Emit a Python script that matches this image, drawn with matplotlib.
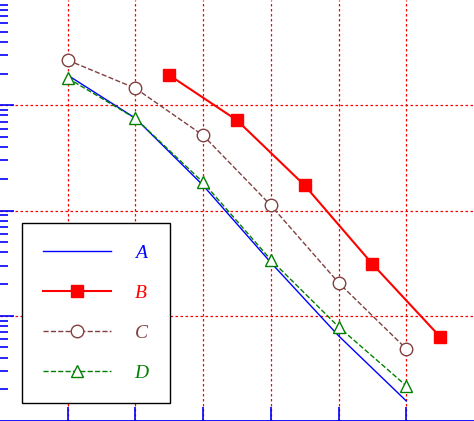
import numpy as np
import matplotlib.pyplot as plt

x_ad = [1, 2, 3, 4, 5, 6]
x_b = [2.5, 3.5, 4.5, 5.5, 6.5]
a_vals = [0.193, 0.0752, 0.0173, 0.0032, 6.45e-4, 1.55e-4]
b_vals = [0.193, 0.072, 0.0173, 0.0031, 6.3e-4]
c_vals = [0.268, 0.145, 0.0517, 0.0112, 0.00206, 4.85e-4]
d_vals = [0.181, 0.075, 0.0185, 0.0034, 7.85e-4, 2.16e-4]

fig = plt.figure(figsize=(4.74, 4.21), dpi=100)
ax = fig.add_axes([0, 0, 1, 1])
ax.set_yscale('log')
ax.set_xlim(0, 7)
ax.set_ylim(1e-4, 1)

ax.plot(x_ad, a_vals, color='blue', lw=1, label='A')
ax.plot(x_b, b_vals, color='red', lw=1.5, marker='s', ms=8, label='B')
ax.plot(x_ad, c_vals, color='#804040', lw=1, ls='--', marker='o', ms=9,
        mfc='white', mec='#804040', label='C')
ax.plot(x_ad, d_vals, color='green', lw=1, ls='--', marker='^', ms=9,
        mfc='white', mec='green', label='D')

ax.set_xticks([1, 2, 3, 4, 5, 6])
ax.set_yticks([1e-3, 1e-2, 1e-1])
ax.grid(True, which='major', color='red', ls=(0, (2, 2)), lw=0.9)
ax.tick_params(axis='both', which='both', direction='in', colors='blue',
               labelbottom=False, labelleft=False)
ax.tick_params(which='major', length=10, width=1.2)
ax.tick_params(which='minor', length=6, width=1.2)
for s in ['top', 'right', 'left']:
    ax.spines[s].set_visible(False)
ax.spines['bottom'].set_color('blue')
ax.spines['bottom'].set_linewidth(2)

leg = ax.legend(loc='lower left', bbox_to_anchor=(0.046, 0.043), frameon=True,
                fancybox=False, edgecolor='black', framealpha=1,
                prop={'family': 'Liberation Serif', 'style': 'italic', 'size': 14},
                handlelength=3.5, labelspacing=1.15, borderpad=1.1,
                handletextpad=1.2, borderaxespad=0)
for t, c in zip(leg.get_texts(), ['blue', 'red', '#804040', 'green']):
    t.set_color(c)

fig.savefig('out.png', dpi=100)
